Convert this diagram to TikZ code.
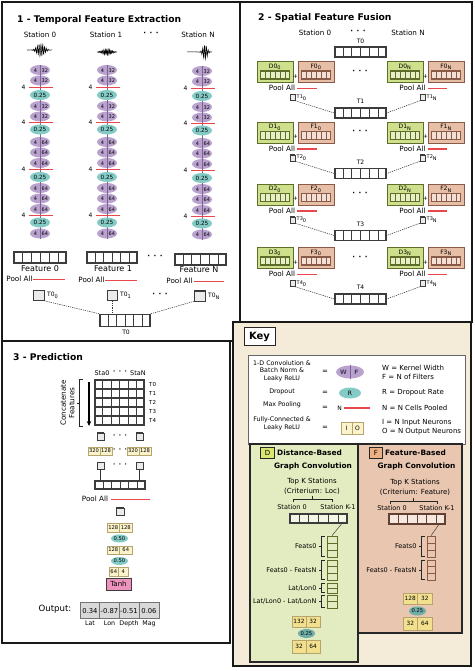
\documentclass[tikz,border=0pt]{standalone}
\usepackage{fontspec}
\setmainfont{DejaVu Sans}
\usetikzlibrary{calc,arrows.meta,shapes.geometric}

\definecolor{purp}{HTML}{BAA2CF}
\definecolor{purpd}{HTML}{7E6399}
\definecolor{tealc}{HTML}{84CBC6}
\definecolor{redl}{HTML}{E8484C}
\definecolor{dgreen}{HTML}{CFE08C}
\definecolor{dgreenb}{HTML}{5E6E2A}
\definecolor{fsal}{HTML}{E7BFA7}
\definecolor{fsalb}{HTML}{8A5A48}
\definecolor{keybg}{HTML}{F4ECD9}
\definecolor{keyD}{HTML}{E3ECC0}
\definecolor{keyF}{HTML}{E8C6B0}
\definecolor{yel}{HTML}{FBF3CB}
\definecolor{yelk}{HTML}{F2E08F}
\definecolor{yelb}{HTML}{B5A56C}
\definecolor{pinkt}{HTML}{EE93BE}
\definecolor{grayo}{HTML}{D9D9D9}
\definecolor{arrc}{HTML}{3C3C3C}

\newcommand{\myfs}[2]{\fontsize{#1}{#2}\selectfont}
\newcommand{\dotsx}{\textbf{·\hspace{3.5pt}·\hspace{3.5pt}·}}

\tikzset{
 panelst/.style={draw=black!90, line width=2pt},
 tit/.style={font=\bfseries\myfs{9.2}{11}, inner sep=0, anchor=west},
 txt/.style={font=\myfs{7.2}{8.5}, inner sep=0},
 small/.style={font=\myfs{6}{7}, inner sep=0},
 tiny/.style={font=\myfs{5}{6}, inner sep=0},
 cellno/.style={font=\myfs{5}{5.5}, inner sep=0},
 convst/.style={ellipse, fill=purp, minimum width=20pt, minimum height=10pt, inner sep=0},
 dropst/.style={ellipse, fill=tealc, minimum width=20pt, minimum height=10pt, inner sep=0, font=\myfs{5.7}{6}},
 poolst/.style={draw=redl, line width=1.8pt},
 dashst/.style={draw=black!80, line width=0.5pt, dash pattern=on 1.3pt off 0.9pt},
 fcst/.style={draw=yelb, fill=yel, line width=0.5pt, inner sep=0, font=\myfs{5.2}{6}},
 minist/.style={draw=arrc, fill=black!8, line width=0.5pt, inner sep=0},
 arrst/.style={line width=1.4pt, inner sep=0},
 colst/.style={line width=0.7pt, inner sep=0},
 keyl/.style={font=\myfs{6.3}{7.6}, inner sep=0, align=center},
 keyr/.style={font=\myfs{7}{8}, inner sep=0, anchor=west},
 keys/.style={font=\myfs{6.5}{7.5}, inner sep=0},
 keym/.style={font=\myfs{7}{8}, inner sep=0},
 brk/.style={draw=black!85, line width=0.5pt},
}

% array: name, cx, cy, w, h, frame colour, cell fill
\newcommand{\myarr}[7]{%
 \node[arrst, draw=#6, fill=#7, minimum width=#4pt, minimum height=#5pt] (#1) at (#2,#3) {};
 \foreach \kk in {1,...,5}{\draw[#6, line width=0.6pt] ($(#1.south west)!{\kk/6}!(#1.south east)$) -- ($(#1.north west)!{\kk/6}!(#1.north east)$);}
}
% mini slice: name, cx, cy, w, h
\newcommand{\mini}[5]{%
 \node[minist, minimum width=#4pt, minimum height=#5pt] (#1) at (#2,#3) {};
 \draw[arrc, line width=1.2pt] (#1.north west) -- (#1.north east) (#1.south west) -- (#1.south east);
}
% conv ellipse: name, cx, cy, W, F
\newcommand{\conv}[5]{%
 \node[convst] (#1) at (#2,#3) {};
 \draw[purpd, line width=0.5pt] (#1.north) -- (#1.south);
 \node[cellno] (#1-l) at ($(#1.center)+(-4.6,0.2)$) {#4};
 \node[cellno] (#1-r) at ($(#1.center)+(4.9,0.2)$) {#5};
}
% fully connected pair: name, cx, cy, w each, h, a, b, extra
\newcommand{\fcpair}[8]{%
 \node[fcst, #8, minimum width=#4pt, minimum height=#5pt] (#1-a) at ({#2-#4/2},#3) {#6};
 \node[fcst, #8, minimum width=#4pt, minimum height=#5pt] (#1-b) at ({#2+#4/2},#3) {#7};
}
% D/F box: name, cx, top, label, fill, border, inner frame, inner cell
\newcommand{\dfbox}[8]{%
 \node[draw=#6, fill=#5, line width=0.8pt, minimum width=36pt, minimum height=21pt, inner sep=0] (#1) at (#2,#3+10.5) {};
 \node[font=\myfs{6}{7}, inner sep=0] (#1-t) at (#2,#3+5.3) {#4};
 \myarr{#1-a}{#2}{#3+13.5}{29}{8}{#7}{#8}
}
% waveform
\newcommand{\wave}[7]{%
 \draw[line width=0.5pt, black] plot[domain=0:1, samples=80, variable=\vv] ({#1+#2*\vv},{#3+#4*exp(0-((\vv-#5)/#6)*((\vv-#5)/#6))*sin(\vv*#7)});
}
% column group: name, cx, cy, w, h, dividers, colour
\newcommand{\colgrp}[7]{%
 \node[colst, draw=#7, minimum width=#4pt, minimum height=#5pt] (#1) at (#2,#3) {};
 \foreach \fr in {#6}{\draw[#7, line width=0.4pt] ($(#1.north west)!{\fr}!(#1.south west)$) -- ($(#1.north east)!{\fr}!(#1.south east)$);}
}
\newcommand{\bracketl}[1]{%
 \draw[brk] ($(#1.north west)+(-2,1)$) -- ($(#1.north west)+(-5,1)$) -- ($(#1.south west)+(-5,-1)$) -- ($(#1.south west)+(-2,-1)$);
 \draw[brk] ($(#1.west)+(-5,0)$) -- ($(#1.west)+(-8,0)$);
}

\begin{document}
\begin{tikzpicture}[x=1pt,y=-1pt]
\useasboundingbox (0,0) rectangle (474,671);
\fill[white] (0,0) rectangle (474,671);

%%%%%%%% Panel 1
\draw[panelst] (2,2) rectangle (240,341);
\node[tit] (t1) at (17,20) {1 - Temporal Feature Extraction};
\node[txt] (h10) at (40,34.5) {Station 0};
\node[txt] (h11) at (106,35) {Station 1};
\node[txt] (h1d) at (151,34) {\dotsx};
\node[txt] (h1N) at (198,35) {Station N};
\wave{27}{25}{50}{6.5}{0.55}{0.2}{5000}
\wave{97}{20}{52}{3}{0.5}{0.3}{5000}
\wave{187}{25}{52}{7.5}{0.72}{0.12}{5000}

\foreach \sn/\cx/\dy in {0/40/0, 1/107/0, N/202/1}{
  \draw[purpd, line width=0.5pt] (\cx,65+\dy) -- (\cx,238+\dy);
  \foreach \yy/\ff [count=\ii] in {70/32, 80.5/32, 106/32, 116.5/32, 142/64, 152.5/64, 163/64, 188/64, 198.5/64, 209/64, 233.5/64}{
    \conv{c\sn-\ii}{\cx}{\yy+\dy}{4}{\ff}
  }
  \foreach \yy [count=\ii] in {95,129.5,177,222.5}{
    \node[dropst] (d\sn-\ii) at (\cx,\yy+\dy) {0.25};
  }
  \foreach \yy [count=\ii] in {87.5,122.5,169.5,215.5}{
    \coordinate (p\sn-\ii-a) at (\cx-11,\yy+\dy);
    \coordinate (p\sn-\ii-b) at (\cx+13,\yy+\dy);
    \draw[poolst] (p\sn-\ii-a) -- (p\sn-\ii-b);
    \node[small] (pn\sn-\ii) at (\cx-16.5,\yy+\dy) {4};
  }
}

\myarr{f0}{40}{257.5}{52}{11}{arrc}{white}
\myarr{f1}{112}{257.5}{50}{11}{arrc}{white}
\myarr{fN}{200.5}{259.5}{51}{11}{arrc}{white}
\node[font=\myfs{8}{9}, inner sep=0] (fl0) at (40,268.5) {Feature 0};
\node[font=\myfs{8}{9}, inner sep=0] (fl1) at (113,268.5) {Feature 1};
\node[font=\myfs{8}{9}, inner sep=0] (flN) at (199,269.5) {Feature N};
\node[txt] (fd) at (155,257) {\dotsx};

\node[txt] (pa0) at (19.5,279) {Pool All};
\coordinate (pa0a) at (33,279.5); \coordinate (pa0b) at (65,279.5);
\draw[poolst] (pa0a) -- (pa0b);
\node[txt] (pa1) at (91.5,280) {Pool All};
\coordinate (pa1a) at (105,280.5); \coordinate (pa1b) at (137,280.5);
\draw[poolst] (pa1a) -- (pa1b);
\node[txt] (paN) at (179.5,281) {Pool All};
\coordinate (paNa) at (194,281.5); \coordinate (paNb) at (224,281.5);
\draw[poolst] (paNa) -- (paNb);

\mini{t00}{38.5}{295.5}{11}{10}
\node[small, anchor=west] (t00l) at (47,295.5) {T0\textsubscript{0}};
\mini{t01}{112}{295.5}{10}{10}
\node[small, anchor=west] (t01l) at (120,295.5) {T0\textsubscript{1}};
\node[txt] (td) at (160,295) {\dotsx};
\mini{t0N}{200}{296}{11}{10}
\node[small, anchor=west] (t0Nl) at (208,296) {T0\textsubscript{N}};
\myarr{t0}{125}{320.5}{50}{12}{arrc}{white}
\node[small] (t0lab) at (126,332) {T0};
\draw[dashst] (t00.south east) -- (t0.north west);
\draw[dashst] (t01.south) -- (t01.south |- t0.north);
\draw[dashst] (t0N.south west) -- (t0.north east);

%%%%%%%% Panel 2
\draw[panelst] (240,2) rectangle (472,322);
\node[tit] (t2) at (258,17.5) {2 - Spatial Feature Fusion};
\node[txt] (h20) at (315,33) {Station 0};
\node[txt] (h2d) at (358,32) {\dotsx};
\node[txt] (h2N) at (408,33) {Station N};
\node[small] (u0l) at (360.5,41.5) {T0};
\myarr{u0}{360.5}{52}{51}{10}{arrc}{white}
\foreach \rr/\bt/\pp in {1/61.5/0,2/122/1,3/184/2,4/247.5/3}{
  \dfbox{D\rr-0}{275}{\bt}{D\pp\textsubscript{0}}{dgreen}{dgreenb}{dgreenb}{dgreen!50!white}
  \dfbox{F\rr-0}{316}{\bt}{F\pp\textsubscript{0}}{fsal}{fsalb}{fsalb}{fsal!50!white}
  \dfbox{D\rr-N}{405}{\bt}{D\pp\textsubscript{N}}{dgreen}{dgreenb}{dgreenb}{dgreen!50!white}
  \dfbox{F\rr-N}{446}{\bt}{F\pp\textsubscript{N}}{fsal}{fsalb}{fsalb}{fsal!50!white}
  \node[small] (pl\rr-0) at (295.5,\bt+15) {+};
  \node[small] (pl\rr-N) at (425.5,\bt+15) {+};
  \node[txt] (dd\rr) at (360,\bt+10) {\dotsx};
  \node[txt] (pt\rr-0) at (282,\bt+26.5) {Pool All};
  \coordinate (pr\rr-0a) at (297,\bt+27); \coordinate (pr\rr-0b) at (317,\bt+27);
  \draw[poolst] (pr\rr-0a) -- (pr\rr-0b);
  \node[txt] (pt\rr-N) at (412.5,\bt+26.5) {Pool All};
  \coordinate (pr\rr-Na) at (428,\bt+27); \coordinate (pr\rr-Nb) at (447,\bt+27);
  \draw[poolst] (pr\rr-Na) -- (pr\rr-Nb);
  \mini{s\rr-0}{292.5}{\bt+36}{5}{6}
  \node[tiny, anchor=west] (sl\rr-0) at (296.5,\bt+36) {T\rr\textsubscript{0}};
  \mini{s\rr-N}{422.5}{\bt+36}{5}{6}
  \node[tiny, anchor=west] (sl\rr-N) at (426.5,\bt+36) {T\rr\textsubscript{N}};
  \node[small] (ul\rr) at (360.5,\bt+40) {T\rr};
  \myarr{u\rr}{360.5}{\bt+51.5}{51}{10}{arrc}{white}
  \draw[dashst] (s\rr-0.south east) -- (u\rr.west);
  \draw[dashst] (s\rr-N.south west) -- (u\rr.east);
}

%%%%%%%% Panel 3
\draw[panelst] (2,341) rectangle (230,643);
\node[tit] (t3) at (13,357) {3 - Prediction};
\node[font=\myfs{6.5}{7.5}, inner sep=0] (sta0) at (102,373) {Sta0};
\node[small] (stad) at (120,372.5) {\dotsx};
\node[font=\myfs{6.5}{7.5}, inner sep=0] (staN) at (138,373) {StaN};
\foreach \ii/\yc in {0/384.5,1/393.5,2/402.5,3/411.5,4/420.5}{
  \myarr{cc\ii}{119.5}{\yc}{49}{9}{arrc}{white}
  \node[font=\myfs{5.5}{6}, inner sep=0, anchor=west] (ccl\ii) at (149,\yc) {T\ii};
}
\draw[brk, line width=0.6pt] (83,379.5) -- (79.5,379.5) -- (79.5,426.5) -- (83,426.5);
\draw[brk, line width=0.6pt] (79.5,403) -- (76.5,403);
\node[font=\myfs{7.2}{8.4}, rotate=90, align=center, inner sep=0] (conc) at (67.5,403) {Concatenate\\Features};
\coordinate (ca1) at (89,382); \coordinate (ca2) at (89,426);
\draw[-{Stealth[length=5pt,width=4.5pt]}, line width=1.3pt] (ca1) -- (ca2);

\mini{m1}{100.5}{436.5}{7}{7}
\mini{m2}{139.5}{436.5}{7}{7}
\node[small] (md1) at (120,436) {\dotsx};
\fcpair{q1}{100}{451}{12}{8}{320}{128}{}
\fcpair{q2}{139}{451}{12}{8}{320}{128}{}
\node[small] (md2) at (120,450.5) {\dotsx};
\mini{m3}{100.5}{466}{7}{7}
\mini{m4}{139.5}{466}{7}{7}
\node[small] (md3) at (120,465.5) {\dotsx};
\myarr{fa}{120}{485}{50}{8}{arrc}{white}
\draw[black!80, line width=0.5pt] (m3.south) -- (m3.south |- fa.north);
\draw[black!80, line width=0.5pt] (m4.south) -- (m4.south |- fa.north);
\node[txt] (pa3) at (95,499) {Pool All};
\coordinate (pr3a) at (111,499.5); \coordinate (pr3b) at (150,499.5);
\draw[poolst] (pr3a) -- (pr3b);
\mini{m5}{120}{511.5}{8}{7}
\fcpair{q3}{119.5}{527.5}{12.5}{9}{128}{128}{}
\node[dropst, minimum width=17pt, minimum height=8pt, font=\myfs{5.2}{6}] (dr1) at (119.5,538.5) {0.50};
\fcpair{q4}{119.5}{550}{12.5}{8.5}{128}{64}{}
\node[dropst, minimum width=17pt, minimum height=8pt, font=\myfs{5.2}{6}] (dr2) at (119.5,561) {0.50};
\fcpair{q5}{118.5}{571.5}{9.5}{9}{64}{4}{}
\node[draw=arrc, fill=pinkt, line width=0.6pt, minimum width=25pt, minimum height=12pt, inner sep=0, font=\myfs{7}{8}] (tanh) at (118.5,584) {Tanh};
\node[font=\myfs{8.6}{10}, inner sep=0] (outl) at (55,609) {Output:};
\foreach \xc/\vl/\lab [count=\jj] in {90/0.34/Lat, 109.5/-0.87/Lon, 129/-0.51/Depth, 149/0.06/Mag}{
  \node[draw=black!55, fill=grayo, line width=0.6pt, minimum width=19.6pt, minimum height=16pt, inner sep=0] (o\jj) at (\xc,610) {};
  \node[font=\myfs{6.8}{8}, inner sep=0] (ov\jj) at (\xc,611.5) {\vl};
  \node[font=\myfs{6.3}{7}, inner sep=0] (ol\jj) at (\xc,623.5) {\lab};
}

%%%%%%%% Key
\draw[panelst, fill=keybg] (232.5,322) rectangle (470.5,666);
\node[draw=black!85, fill=white, line width=1pt, minimum width=31pt, minimum height=18pt, inner sep=0, font=\bfseries\myfs{10}{11}] (keyt) at (259.5,336.5) {Key};
\draw[draw=black!60, fill=white, line width=1pt] (248,355) rectangle (465,444);

\node[keyl] (kl1) at (282,371) {1-D Convolution \&\\Batch Norm \&\\Leaky ReLU};
\node[keym] (ke1) at (325,372) {=};
\node[convst, minimum width=28pt, minimum height=13pt] (kc) at (350,372) {};
\draw[purpd, line width=0.6pt] (kc.north) -- (kc.south);
\node[font=\bfseries\myfs{6}{7}, inner sep=0, text=purpd!60!black] (kcw) at (343.5,372.3) {W};
\node[font=\bfseries\myfs{6}{7}, inner sep=0, text=purpd!60!black] (kcf) at (356.5,372.3) {F};
\node[keyr] (kr1) at (382,368) {W = Kernel Width};
\node[keyr] (kr2) at (382,377) {F = N of Filters};

\node[keyl] (kl2) at (282,392) {Dropout};
\node[keym] (ke2) at (325,393) {=};
\node[dropst, minimum width=22pt, minimum height=11pt, font=\myfs{6}{7}] (kd) at (350,393) {R};
\node[keyr] (kr3) at (382,393) {R = Dropout Rate};

\node[keyl] (kl3) at (282,405) {Max Pooling};
\node[keym] (ke3) at (325,407.5) {=};
\node[small] (kpn) at (339.5,408) {N};
\coordinate (kpa) at (344,408); \coordinate (kpb) at (370,408);
\draw[poolst] (kpa) -- (kpb);
\node[keyr] (kr4) at (382,407.5) {N = N Cells Pooled};

\node[keyl] (kl4) at (282,424) {Fully-Connected \&\\Leaky ReLU};
\node[keym] (ke4) at (325,428) {=};
\fcpair{kio}{352}{428}{11}{12}{I}{O}{font=\myfs{6}{7}}
\node[keyr] (kr5) at (382,423) {I = N Input Neurons};
\node[keyr] (kr6) at (382,432) {O = N Output Neurons};

% Distance-based
\draw[draw=black!85, fill=keyD, line width=1.2pt] (250,444) rectangle (358,662);
\node[draw=black!85, fill=dgreen!80!yellow, line width=0.8pt, minimum width=14pt, minimum height=11pt, inner sep=0, font=\myfs{7}{8}] (kDh) at (267.5,452.5) {D};
\node[font=\bfseries\myfs{7.4}{8.5}, inner sep=0, anchor=west] (kDt1) at (277,452.5) {Distance-Based};
\node[font=\bfseries\myfs{7.4}{8.5}, inner sep=0] (kDt2) at (313,466.5) {Graph Convolution};
\node[keym] (kDs1) at (312,482) {Top K Stations};
\node[keym] (kDs2) at (312,491) {(Criterium: Loc)};
\draw[brk, line width=0.6pt] (293,502) -- (293,499) -- (332,499) -- (332,502) (312.5,499) -- (312.5,496);
\node[keys] (kDa) at (292,507) {Station 0};
\node[keys] (kDb) at (338,507) {Station K-1};
\myarr{kDarr}{318.5}{518.5}{57}{9}{arrc}{keyD!40!white}
\colgrp{kDg1}{332}{546.5}{10}{21}{1/3,2/3}{dgreenb}
\colgrp{kDg2}{332}{570}{10}{20}{1/3,2/3}{dgreenb}
\colgrp{kDg3}{332}{588}{10}{10}{1/2}{dgreenb}
\colgrp{kDg4}{332}{601.5}{10}{13}{1/2}{dgreenb}
\draw[black!75, line width=0.5pt] ($(kDarr.south east)+(-6,0)$) -- (kDg1.north);
\bracketl{kDg1}
\bracketl{kDg2}
\bracketl{kDg3}
\bracketl{kDg4}
\node[keys, anchor=east] (kDl1) at ($(kDg1.west)+(-10,0)$) {Feats0};
\node[keys, anchor=east] (kDl2) at ($(kDg2.west)+(-10,0)$) {Feats0 - FeatsN};
\node[keys, anchor=east] (kDl3) at ($(kDg3.west)+(-10,0)$) {Lat/Lon0};
\node[keys, anchor=east] (kDl4) at ($(kDg4.west)+(-10,0)$) {Lat/Lon0 - Lat/LonN};
\fcpair{kD1}{306}{621.5}{14}{11.5}{132}{32}{fill=yelk, font=\myfs{5.8}{7}}
\node[dropst, minimum width=17pt, minimum height=9pt, font=\myfs{5.2}{6}, fill=tealc!85!black] (kDd) at (306.5,633.5) {0.25};
\fcpair{kD2}{306}{646.5}{14}{12.5}{32}{64}{fill=yelk, font=\myfs{5.8}{7}}

% Feature-based
\draw[draw=black!85, fill=keyF, line width=1.2pt] (358,444) rectangle (462,633);
\node[draw=black!85, fill=fsal!80!orange, line width=0.8pt, minimum width=13pt, minimum height=11pt, inner sep=0, font=\myfs{7}{8}] (kFh) at (376,452.5) {F};
\node[font=\bfseries\myfs{7.4}{8.5}, inner sep=0, anchor=west] (kFt1) at (385,452.5) {Feature-Based};
\node[font=\bfseries\myfs{7.4}{8.5}, inner sep=0] (kFt2) at (416.5,466.5) {Graph Convolution};
\node[keym] (kFs1) at (415,483) {Top K Stations};
\node[keym] (kFs2) at (415,492) {(Criterium: Feature)};
\draw[brk, line width=0.6pt] (390,504) -- (390,501) -- (437,501) -- (437,504) (413.5,501) -- (413.5,498);
\node[keys] (kFa) at (392,508) {Station 0};
\node[keys] (kFb) at (437,508) {Station K-1};
\myarr{kFarr}{417}{519}{56}{10}{fsalb!70!black}{keyF!40!white}
\colgrp{kFg1}{431}{546.5}{8}{21}{1/3,2/3}{fsalb}
\colgrp{kFg2}{431}{570}{8}{20}{1/3,2/3}{fsalb}
\draw[black!75, line width=0.5pt] ($(kFarr.south east)+(-7,0)$) -- (kFg1.north);
\bracketl{kFg1}
\bracketl{kFg2}
\node[keys, anchor=east] (kFl1) at ($(kFg1.west)+(-10,0)$) {Feats0};
\node[keys, anchor=east] (kFl2) at ($(kFg2.west)+(-10,0)$) {Feats0 - FeatsN};
\fcpair{kF1}{417.5}{598.5}{14.5}{11}{128}{32}{fill=yelk, font=\myfs{5.8}{7}}
\node[dropst, minimum width=17pt, minimum height=9pt, font=\myfs{5.2}{6}, fill=tealc!85!black] (kFd) at (417.5,611) {0.25};
\fcpair{kF2}{417.5}{623.5}{14.5}{12.5}{32}{64}{fill=yelk, font=\myfs{5.8}{7}}
\end{tikzpicture}
\end{document}
